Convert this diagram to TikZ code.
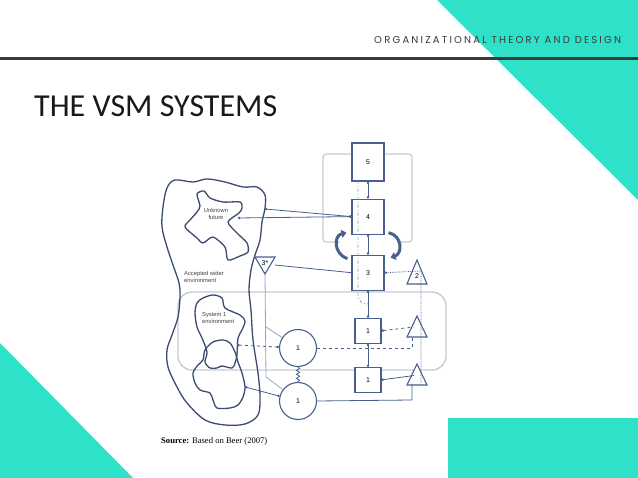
\documentclass[tikz,border=0pt]{standalone}
\usepackage{fontspec}
\setmainfont{Liberation Sans}
\newfontfamily\headfont{Poppins}[LetterSpace=22]
\newfontfamily\titlefont{Carlito}
\newfontfamily\srcfont{Liberation Serif}
\usepackage{tikz}
\usetikzlibrary{arrows.meta,calc,decorations.pathmorphing,positioning}
\definecolor{slideteal}{RGB}{46,226,202}
\definecolor{vsm}{RGB}{72,96,142}
\definecolor{blobc}{RGB}{58,74,112}
\definecolor{lgray}{RGB}{198,203,214}
\definecolor{mgray}{RGB}{150,164,190}
\definecolor{headgray}{RGB}{58,58,58}

\begin{document}
\begin{tikzpicture}
  [
   x=1pt,y=-1pt,
   sys/.style={rectangle,draw=vsm,line width=1.1pt,fill=white,inner sep=0pt,minimum width=32pt,font=\fontsize{7}{8}\selectfont},
   op/.style={rectangle,draw=vsm,line width=1.1pt,fill=white,inner sep=0pt,minimum width=26pt,minimum height=25pt,font=\fontsize{7}{8}\selectfont},
   unit/.style={circle,draw=vsm,line width=1.1pt,fill=white,inner sep=0pt,minimum size=37pt,font=\fontsize{7}{8}\selectfont},
   tri/.style={draw=vsm,line width=1.1pt,fill=white},
   trilab/.style={inner sep=0pt,font=\fontsize{7}{8}\selectfont},
   blob/.style={draw=blobc,line width=1.3pt},
   txt/.style={inner sep=0pt,align=left,font=\fontsize{5.8}{6.6}\selectfont,text=black!75},
   lnk/.style={draw=vsm,line width=0.8pt},
   ends/.style={{Circle[length=2.4pt]}-{Circle[length=2.4pt]}},
   homeo/.style={draw=vsm,line width=3pt,-{Triangle[length=5pt,width=8pt]}}
  ]
  \useasboundingbox (0,0) rectangle (638,478);

  % slide decoration
  \fill[slideteal] (437,0) -- (638,0) -- (638,200) -- cycle;
  \fill[slideteal] (0,343) -- (133,478) -- (0,478) -- cycle;
  \fill[slideteal] (448,418) rectangle (638,478);
  \draw[headgray,line width=2.5pt] (0,58.5) -- (638,58.5);
  \node[anchor=base west,inner sep=0pt,text=headgray,font=\headfont\fontsize{10}{12}\selectfont] (head) at (374,43.5) {ORGANIZATIONAL THEORY AND DESIGN};
  \node[anchor=base west,inner sep=0pt,text=black!90,font=\titlefont\fontsize{32}{38}\selectfont] (title) at (34,117) {THE VSM SYSTEMS};

  % grey frames
  \draw[lgray,line width=1.4pt,rounded corners=14pt] (178,292) rectangle (446,370);
  \draw[lgray,line width=1.2pt,rounded corners=3pt] (352,154) -- (323,154) -- (323,242) -- (340,242);
  \draw[lgray,line width=1.2pt,rounded corners=3pt] (384,154) -- (412,154) -- (412,242) -- (397,242);

  % environments
  \draw[blob] plot[smooth cycle,tension=0.55] coordinates {(175,180) (193,182) (207,179) (225,182) (243,187) (257,187) (265,195) (265,208) (262,222) (260,240) (255,255) (251,270) (249,290) (251,310) (253,340) (258,373) (260,397) (258,415) (245,424) (225,425) (205,420) (187,403) (177,387) (168,367) (167,350) (172,335) (178,317) (180,297) (179,283) (173,265) (167,247) (162,227) (163,207) (167,188)};
  \draw[blob] plot[smooth cycle,tension=0.45] coordinates {(197,194) (204,191) (210,198) (223,202) (240,202) (242,208) (239,213) (228,222) (237,233) (247,243) (248,252) (240,256) (228,260) (225,247) (213,237) (203,243) (197,238) (185,227) (190,220) (197,212) (200,206)};
  \draw[blob] plot[smooth cycle,tension=0.5] coordinates {(203,298) (213,295) (222,298) (225,308) (240,315) (245,321) (242,330) (238,338) (237,355) (235,363) (232,368) (222,366) (217,368) (210,368) (205,362) (207,352) (202,338) (197,327) (195,313) (197,303)};
  \draw[blob] plot[smooth cycle,tension=0.5] coordinates {(205,350) (213,342) (223,340) (230,343) (235,352) (238,362) (242,373) (245,387) (243,397) (238,405) (230,408) (217,408) (213,400) (210,393) (200,390) (195,383) (193,373) (198,365) (203,360)};

  \node[txt,align=center] (ufl) at (216,214) {Unknown\\future};
  \node[txt,anchor=west] (awl) at (184,277) {Accepted wider\\environment};
  \node[txt,anchor=west] (s1l) at (202,318) {System 1\\environment};

  \coordinate (aw) at (265,209);
  \coordinate (uf) at (238,218);
  \coordinate (s1e) at (237,345);
  \coordinate (ope) at (245,387);

  % systems
  \node[sys,minimum height=38pt] (s5) at (368,162) {5};
  \node[sys,minimum height=35pt] (s4) [below=17pt of s5] {4};
  \node[sys,minimum height=35pt] (s3) [below=20pt of s4] {3};
  \node[op] (o1) [below=27pt of s3] {1};
  \node[op] (o2) [below=23pt of o1] {1};
  \node[unit] (c1) at (298,348) {1};
  \node[unit] (c2) at (298,401) {1};

  % triangles
  \draw[tri] (417,260) -- (427,284) -- (407,284) -- cycle;
  \node[trilab] (t2) at (417,276) {2};
  \draw[tri] (417,316) -- (427,337) -- (407,337) -- cycle;
  \coordinate (ta) at (414,327);
  \coordinate (tab) at (412,336);
  \draw[tri] (417,364) -- (427,385) -- (407,385) -- cycle;
  \coordinate (tb) at (414,375.5);
  \coordinate (tbb) at (412,384);
  \draw[tri] (255,257) -- (275,257) -- (265,274) -- cycle;
  \node[trilab] (t3s) at (265,263) {3*};

  % audit channel
  \draw[mgray,line width=0.8pt] (265,274) -- (266,377);
  \draw[mgray,line width=0.8pt] (266,327) -- (c1);
  \draw[mgray,line width=0.8pt] (266,377) -- (c2);

  % links
  \draw[lnk,ends] (aw) -- (s4.west);
  \draw[lnk,ends] (uf) -- (s4.west);
  \draw[lnk] (275,265) -- (s3.west);
  \draw[lnk,ends] (s5) -- (s4);
  \draw[lnk,ends] (s4) -- (s3);
  \draw[lnk,ends] (s3) -- (o1);
  \draw[lnk,ends] (o1) -- (o2);
  \draw[lnk,ends,dashed] (s1e) -- (c1);
  \draw[lnk,ends] (ope) -- (c2);
  \draw[lnk,dashed,{Circle[length=2.4pt]}-] (o1.east) -- (ta);
  \draw[lnk,dashed] (c1.east) -- (412,348) -- (tab);
  \draw[lnk,{Circle[length=2.4pt]}-] (o2.east) -- (tb);
  \draw[lnk] (c2.east) -- (412,400) -- (tbb);
  \draw[lnk,densely dotted,{Circle[length=2.4pt]}-] (s3.east) -- (421,271) -- (421,385);
  \draw[mgray,line width=0.8pt,dash pattern=on 3pt off 2pt on 1pt off 2pt] (358,181) -- (358,296) to[out=-90,in=180] (368,304);
  \draw[vsm,line width=0.8pt,decorate,decoration={snake,amplitude=1.6pt,segment length=4pt}] (c1.south) -- (c2.north);

  % homeostat
  \draw[homeo] ([xshift=-4pt,yshift=-4pt]s3.north west) .. controls +(-14,-5) and +(-13,3) .. ([xshift=-5pt,yshift=2pt]s4.south west);
  \draw[homeo] ([xshift=4pt,yshift=2pt]s4.south east) .. controls +(14,3) and +(12,-4) .. ([xshift=6pt,yshift=-3pt]s3.north east);

  \node[anchor=west,inner sep=0pt,font=\srcfont\fontsize{8.6}{10}\selectfont] (src) at (161,441) {\textbf{Source:} Based on Beer (2007)};
\end{tikzpicture}
\end{document}
